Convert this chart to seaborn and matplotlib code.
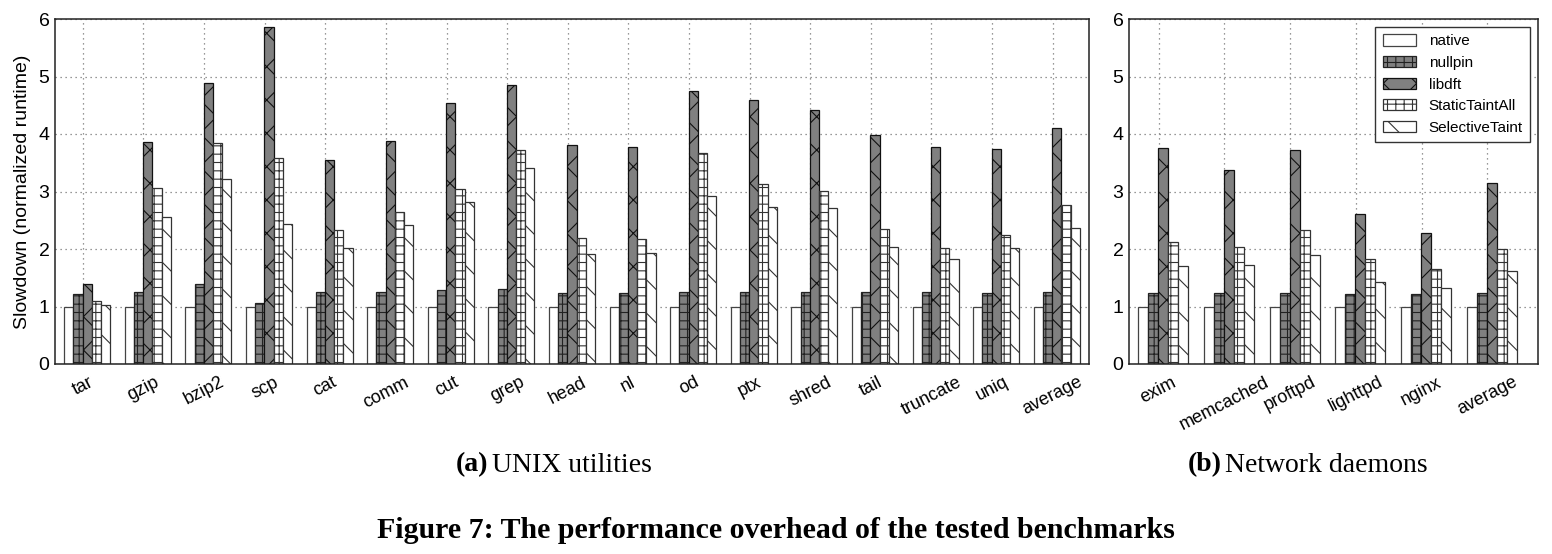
import numpy as np
import pandas as pd
import seaborn as sns
import matplotlib as mpl
mpl.use('Agg')
import matplotlib.pyplot as plt

# ---------------------------------------------------------
# data
tools = ['native', 'nullpin', 'libdft', 'StaticTaintAll', 'SelectiveTaint']

unix_bench = ['tar', 'gzip', 'bzip2', 'scp', 'cat', 'comm', 'cut', 'grep', 'head',
              'nl', 'od', 'ptx', 'shred', 'tail', 'truncate', 'uniq', 'average']
unix_native = [1.0, 1.0, 1.0, 1.0, 1.0, 1.0, 1.0, 1.0, 1.0,
               1.0, 1.0, 1.0, 1.0, 1.0, 1.0, 1.0, 1.0]
unix_nullpin = [1.21, 1.25, 1.40, 1.06, 1.25, 1.25, 1.28, 1.31, 1.24,
                1.24, 1.26, 1.26, 1.25, 1.25, 1.25, 1.23, 1.25]
unix_libdft = [1.39, 3.86, 4.89, 5.86, 3.54, 3.87, 4.54, 4.85, 3.81,
               3.78, 4.75, 4.60, 4.42, 3.99, 3.77, 3.74, 4.10]
unix_static = [1.10, 3.06, 3.85, 3.58, 2.33, 2.65, 3.05, 3.72, 2.20,
               2.17, 3.67, 3.13, 3.01, 2.34, 2.01, 2.24, 2.76]
unix_selective = [1.02, 2.56, 3.21, 2.43, 2.01, 2.41, 2.82, 3.41, 1.91,
                  1.93, 2.93, 2.73, 2.71, 2.03, 1.82, 2.01, 2.37]

net_bench = ['exim', 'memcached', 'proftpd', 'lighttpd', 'nginx', 'average']
net_native = [1.0, 1.0, 1.0, 1.0, 1.0, 1.0]
net_nullpin = [1.24, 1.24, 1.24, 1.22, 1.21, 1.23]
net_libdft = [3.76, 3.38, 3.72, 2.61, 2.28, 3.15]
net_static = [2.13, 2.04, 2.33, 1.82, 1.65, 2.00]
net_selective = [1.71, 1.72, 1.90, 1.43, 1.32, 1.62]

# ---------------------------------------------------------
def make_df(names, native, nullpin, libdft, static, selective):
    df = pd.DataFrame({'bench': names, 'native': native, 'nullpin': nullpin,
                       'libdft': libdft, 'StaticTaintAll': static,
                       'SelectiveTaint': selective})
    return pd.melt(df, id_vars='bench', var_name='tool', value_name='slowdown')

df_unix = make_df(unix_bench, unix_native, unix_nullpin, unix_libdft, unix_static, unix_selective)
df_net = make_df(net_bench, net_native, net_nullpin, net_libdft, net_static, net_selective)

sns.set_style('whitegrid')
plt.rcParams['font.family'] = ['Liberation Sans', 'DejaVu Sans']
plt.rcParams['hatch.linewidth'] = 0.8
plt.rcParams['hatch.color'] = '#1a1a1a'
plt.rcParams['text.color'] = 'black'
plt.rcParams['axes.labelcolor'] = 'black'
plt.rcParams['xtick.color'] = 'black'
plt.rcParams['ytick.color'] = 'black'

fill = {'native': 'white', 'nullpin': '#808080', 'libdft': '#808080',
        'StaticTaintAll': 'white', 'SelectiveTaint': 'white'}
hatches = {'native': '', 'nullpin': '++', 'libdft': 'x',
           'StaticTaintAll': '++', 'SelectiveTaint': '\\'}
edges = {'native': '#444444', 'nullpin': '#222222', 'libdft': '#111111',
         'StaticTaintAll': '#333333', 'SelectiveTaint': '#333333'}

fig = plt.figure(figsize=(15.52, 5.54), dpi=100)
ax1 = fig.add_axes([55 / 1552, 1 - 364 / 554, 1034 / 1552, 345 / 554])
ax2 = fig.add_axes([1129 / 1552, 1 - 364 / 554, 409 / 1552, 345 / 554])

for ax, df, names, xlim in [(ax1, df_unix, unix_bench, (-0.53, 16.53)),
                            (ax2, df_net, net_bench, (-0.52, 5.7))]:
    sns.barplot(data=df, x='bench', y='slowdown', hue='tool', hue_order=tools,
                palette=fill, saturation=1, width=0.76, gap=0,
                edgecolor='#222222', linewidth=0.9, legend=False, ax=ax)
    for cont, tool in zip(ax.containers, tools):
        for bar in cont:
            bar.set_hatch(hatches[tool])
            bar.set_edgecolor(edges[tool])
    ax.set_ylim(0, 6)
    ax.set_xlim(*xlim)
    ax.set_yticks(range(7))
    # gnuplot-like: tick (and grid line) sits a little left of the cluster centre
    ax.set_xticks(np.arange(len(names)) - 0.07, names)
    ax.grid(True, axis='both', linestyle=(0, (1, 3)), color='#777777', linewidth=0.9)
    ax.set_axisbelow(True)
    for sp in ax.spines.values():
        sp.set_color('#222222')
        sp.set_linewidth(1.1)
    ax.tick_params(axis='y', labelsize=14, length=0, pad=4)
    ax.tick_params(axis='x', labelsize=13, length=0, pad=7)
    for lab in ax.get_xticklabels():
        lab.set_rotation(27)
        lab.set_ha('center')
        lab.set_va('top')
    ax.set_xlabel('')
    ax.set_ylabel('')

ax1.set_ylabel('Slowdown (normalized runtime)', fontsize=14, labelpad=5)

ax2.legend(handles=ax2.containers, labels=tools, loc='upper right', frameon=True,
           fancybox=False, edgecolor='#333333', framealpha=1, fontsize=11,
           handlelength=2.2, handleheight=0.75, borderpad=0.5, labelspacing=0.5)

# sub captions and figure caption
serif = ['Liberation Serif', 'DejaVu Serif']
fig.text(456 / 1552, 1 - 465 / 554, '(a)', family=serif, weight='bold', fontsize=20,
         ha='left', va='center')
fig.text(492 / 1552, 1 - 465 / 554, 'UNIX utilities', family=serif, fontsize=20,
         ha='left', va='center')
fig.text(1188 / 1552, 1 - 465 / 554, '(b)', family=serif, weight='bold', fontsize=20,
         ha='left', va='center')
fig.text(1225 / 1552, 1 - 465 / 554, 'Network daemons', family=serif, fontsize=20,
         ha='left', va='center')
fig.text(776 / 1552, 1 - 530 / 554, 'Figure 7: The performance overhead of the tested benchmarks',
         family=serif, weight='bold', fontsize=21.5, ha='center', va='center')

plt.savefig('out.png', dpi=100)
